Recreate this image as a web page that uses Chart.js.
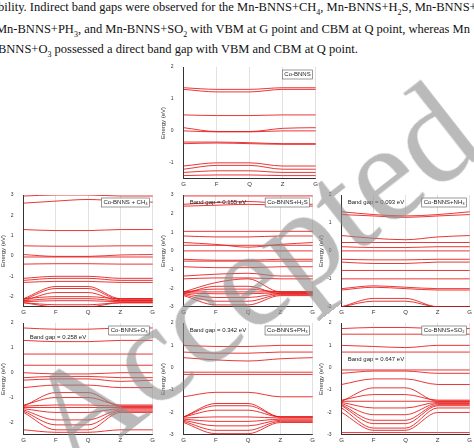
<!DOCTYPE html>
<html><head><meta charset="utf-8">
<script src="https://cdn.jsdelivr.net/npm/chart.js@4"></script>
<style>
body{margin:0;width:474px;height:448px;background:#fff;position:relative;overflow:hidden;font-family:"Liberation Serif",serif}
.t{position:absolute;left:0;font-size:12.5px;white-space:nowrap;color:#111}
.p{position:absolute}
#wm{position:absolute;left:-10px;top:215px;font-family:"Liberation Serif",serif;font-size:140px;color:rgba(140,140,140,0.6);transform:rotate(-38deg);transform-origin:center;white-space:nowrap;pointer-events:none;width:500px;text-align:center;line-height:140px}
</style></head><body>
<div class="t" style="top:0px;left:-2px">bility. Indirect band gaps were observed for the Mn-BNNS+CH<sub style="font-size:8px">4</sub>, Mn-BNNS+H<sub style="font-size:8px">2</sub>S, Mn-BNNS+NH<sub style="font-size:8px">3</sub></div>
<div class="t" style="top:22px;left:-4px">Mn-BNNS+PH<sub style="font-size:8px">3</sub>, and Mn-BNNS+SO<sub style="font-size:8px">2</sub> with VBM at G point and CBM at Q point, whereas Mn</div>
<div class="t" style="top:42px;left:-2px">BNNS+O<sub style="font-size:8px">3</sub> possessed a direct band gap with VBM and CBM at Q point.</div>
<div class="p" style="left:160px;top:62px;width:160px;height:128px"><canvas id="c0"></canvas></div>
<div class="p" style="left:0px;top:190px;width:157px;height:128px"><canvas id="c1"></canvas></div>
<div class="p" style="left:160px;top:190px;width:157px;height:128px"><canvas id="c2"></canvas></div>
<div class="p" style="left:318px;top:190px;width:156px;height:128px"><canvas id="c3"></canvas></div>
<div class="p" style="left:0px;top:318px;width:157px;height:128px"><canvas id="c4"></canvas></div>
<div class="p" style="left:160px;top:318px;width:157px;height:128px"><canvas id="c5"></canvas></div>
<div class="p" style="left:318px;top:318px;width:156px;height:128px"><canvas id="c6"></canvas></div>
<div id="wm">Accepted</div>
<script>
const kpoints = ["G","F","Q","Z","G"];
const names = ["Co-BNNS","Co-BNNS + CH₄","Co-BNNS+H₂S","Co-BNNS+NH₃","Co-BNNS+O₃","Co-BNNS+PH₃","Co-BNNS+SO₂"];
const gaps = ["", "", "Band gap = 0.155 eV","Band gap = 0.093 eV","Band gap = 0.258 eV","Band gap = 0.342 eV","Band gap = 0.647 eV"];
const yMin = [-1.5,-2.5,-3,-2,-2.5,-3,-3];
const yMax = [2,3,3,2,2,2,2];
const bands0 = [[1.35,1.3,1.3,1.35,1.35],[1.3,1.22,1.22,1.3,1.3],[0.5,0.48,0.48,0.5,0.5],[0.1,-0.02,-0.02,0.08,0.1],[0.0,-0.03,-0.03,0,0],[-0.35,-0.35,-0.37,-0.4,-0.4],[-0.4,-0.38,-0.4,-0.42,-0.42],[-1.1,-1.0,-1.0,-1.1,-1.1],[-1.2,-1.08,-1.08,-1.2,-1.2],[-1.3,-1.25,-1.25,-1.3,-1.3],[-1.4,-1.38,-1.38,-1.4,-1.4]];
const bands1 = [[2.95,3.0,3.0,2.95,2.95],[2.6,2.7,2.78,2.7,2.65],[1.3,1.25,1.25,1.3,1.3],[0.5,0.48,0.48,0.5,0.5],[0.07,-0.02,-0.02,0.05,0.07],[-0.05,-0.05,-0.05,-0.05,-0.05],[-0.4,-0.38,-0.38,-0.4,-0.4],[-1.1,-1.0,-1.0,-1.1,-1.1],[-1.2,-1.1,-1.1,-1.2,-1.2],[-1.3,-1.25,-1.25,-1.3,-1.3],[-2.1,-1.5,-1.5,-2.1,-2.1],[-2.15,-1.6,-1.6,-2.15,-2.15],[-2.2,-1.8,-1.8,-2.2,-2.2],[-2.1,-2.0,-2.0,-2.1,-2.1],[-2.2,-2.1,-2.1,-2.2,-2.2],[-2.25,-2.2,-2.2,-2.25,-2.25],[-2.3,-2.4,-2.4,-2.3,-2.3],[-2.3,-2.5,-2.5,-2.3,-2.3]];
const bands2 = [[2.4,2.45,2.5,2.45,2.4],[2.5,2.6,2.65,2.55,2.5],[2.95,2.95,2.95,2.95,2.95],[1.05,1.05,1.05,1.05,1.05],[0.8,0.75,0.75,0.8,0.8],[0.45,0.35,0.2,0.35,0.45],[0.3,0.3,0.3,0.3,0.3],[0.0,0.0,0.0,0.0,0.0],[-0.45,-0.5,-0.5,-0.45,-0.45],[-0.55,-0.55,-0.55,-0.55,-0.55],[-0.85,-0.9,-0.9,-0.85,-0.85],[-1.35,-1.25,-1.2,-1.35,-1.35],[-1.5,-1.45,-1.45,-1.5,-1.5],[-2.2,-1.7,-1.5,-2.2,-2.2],[-2.3,-1.9,-1.9,-2.3,-2.3],[-2.2,-2.2,-2.2,-2.2,-2.2],[-2.25,-2.3,-2.3,-2.25,-2.25],[-2.3,-2.5,-2.5,-2.3,-2.3],[-2.35,-2.7,-2.7,-2.35,-2.35],[-2.4,-2.9,-2.9,-2.4,-2.4],[-2.2,-2.05,-2.05,-2.2,-2.2]];
const bands3 = [[1.4,1.3,1.25,1.3,1.4],[1.3,1.25,1.2,1.25,1.3],[0.55,0.45,0.4,0.5,0.55],[0.3,0.3,0.3,0.3,0.3],[0.15,0.12,0.12,0.15,0.15],[0.0,0.0,0.0,0.0,0.0],[-0.3,-0.32,-0.32,-0.3,-0.3],[-0.4,-0.45,-0.45,-0.4,-0.4],[-0.7,-0.7,-0.7,-0.7,-0.7],[-1.0,-1.0,-1.0,-1.0,-1.0],[-1.35,-1.25,-1.3,-1.35,-1.35],[-1.4,-1.3,-1.35,-1.4,-1.4],[-2.0,-1.7,-1.7,-2.0,-2.0],[-2.0,-1.8,-1.8,-2.0,-2.0]];
const bands4 = [[1.8,1.75,1.75,1.8,1.8],[1.3,1.25,1.25,1.3,1.3],[0.75,0.75,0.75,0.75,0.75],[0.3,0.3,0.3,0.3,0.3],[0.0,-0.05,-0.05,0.0,0.0],[-0.2,-0.15,-0.15,-0.2,-0.2],[-0.3,-0.25,-0.25,-0.35,-0.3],[-0.6,-0.5,-0.5,-0.6,-0.6],[-1.35,-0.8,-0.8,-1.35,-1.35],[-1.3,-1.0,-1.0,-1.3,-1.3],[-1.35,-1.3,-1.3,-1.35,-1.35],[-1.4,-1.4,-1.4,-1.4,-1.4],[-1.45,-1.6,-1.6,-1.45,-1.45],[-1.5,-1.9,-1.9,-1.5,-1.5],[-1.55,-2.1,-2.1,-1.55,-1.55],[-1.6,-2.3,-2.3,-1.6,-1.6],[-2.3,-2.4,-2.4,-2.3,-2.3]];
const bands5 = [[1.0,0.95,0.95,1.0,1.0],[0.7,0.65,0.65,0.7,0.7],[0.45,0.35,0.3,0.4,0.45],[-0.2,-0.2,-0.2,-0.2,-0.2],[-0.3,-0.3,-0.3,-0.3,-0.3],[-1.3,-1.1,-1.1,-1.3,-1.3],[-2.2,-1.6,-1.6,-2.2,-2.2],[-2.2,-1.7,-1.7,-2.2,-2.2],[-2.2,-1.9,-1.9,-2.2,-2.2],[-2.25,-2.2,-2.2,-2.25,-2.25],[-2.3,-2.4,-2.4,-2.3,-2.3],[-2.35,-2.6,-2.6,-2.35,-2.35],[-2.4,-2.8,-2.8,-2.4,-2.4],[-2.45,-2.95,-2.95,-2.45,-2.45]];
const bands6 = [[1.75,1.8,1.8,1.75,1.75],[1.5,1.5,1.5,1.5,1.5],[1.0,0.95,0.9,1.0,1.0],[0.7,0.7,0.7,0.7,0.7],[-0.1,-0.1,-0.1,-0.1,-0.1],[-0.25,-0.15,-0.15,-0.25,-0.25],[-0.75,-0.5,-0.5,-0.75,-0.75],[-1.5,-0.9,-0.9,-1.5,-1.5],[-1.45,-1.2,-1.2,-1.45,-1.45],[-1.5,-1.5,-1.5,-1.5,-1.5],[-1.55,-1.8,-1.8,-1.55,-1.55],[-1.6,-2.1,-2.1,-1.6,-1.6],[-1.65,-2.35,-2.35,-1.65,-1.65],[-1.7,-2.5,-2.5,-1.7,-1.7],[-1.8,-2.7,-2.7,-1.8,-1.8],[-2.0,-2.8,-2.8,-2.0,-2.0],[-2.9,-2.9,-2.9,-2.9,-2.9]];
const allBands = [bands0,bands1,bands2,bands3,bands4,bands5,bands6];

const labelPlugin = {
  id:'lbl',
  afterDraw(chart){
    const i = chart.options.plugins.lbl.idx, a = chart.chartArea, c = chart.ctx;
    c.save(); c.font='6px "Liberation Sans",Arial'; c.fillStyle='#222';
    const n = names[i], w = c.measureText(n).width + 4;
    c.fillStyle='#fff'; c.fillRect(a.right-w-3,a.top+3,w,9);
    c.strokeStyle='#555'; c.lineWidth=0.6; c.strokeRect(a.right-w-3,a.top+3,w,9);
    c.fillStyle='#222'; c.textBaseline='middle'; c.fillText(n,a.right-w-1,a.top+7.5);
    if (gaps[i]) { const gy = i===4||i===6 ? a.top+ (i===6?36:14) : a.top+7.5; c.fillText(gaps[i], a.left+6, gy); }
    c.restore();
  }
};
allBands.forEach((bands,i)=>{
  new Chart(document.getElementById('c'+i),{
    type:'line',
    data:{labels:kpoints,datasets:bands.map(b=>({data:b,borderColor:'rgba(230,20,20,0.85)',borderWidth:1,pointRadius:0,cubicInterpolationMode:'monotone'}))},
    options:{responsive:true,maintainAspectRatio:false,animation:false,
      layout:{padding:{top:4,right:4}},
      plugins:{legend:{display:false},tooltip:{enabled:false},lbl:{idx:i}},
      scales:{
        x:{offset:false,grid:{color:'#ccc',lineWidth:0.6,drawTicks:false},border:{color:'#333'},ticks:{font:{size:6},color:'#333',padding:2}},
        y:{min:yMin[i],max:yMax[i],grid:{display:false},border:{color:'#333'},
           afterBuildTicks(s){s.ticks=s.ticks.filter(t=>Number.isInteger(t.value));},
           ticks:{stepSize:1,font:{size:5},color:'#333',padding:2},
           title:{display:true,text:'Energy (eV)',font:{size:6},color:'#333',padding:0}}
      }}
    ,plugins:[labelPlugin]});
});
</script></body></html>
